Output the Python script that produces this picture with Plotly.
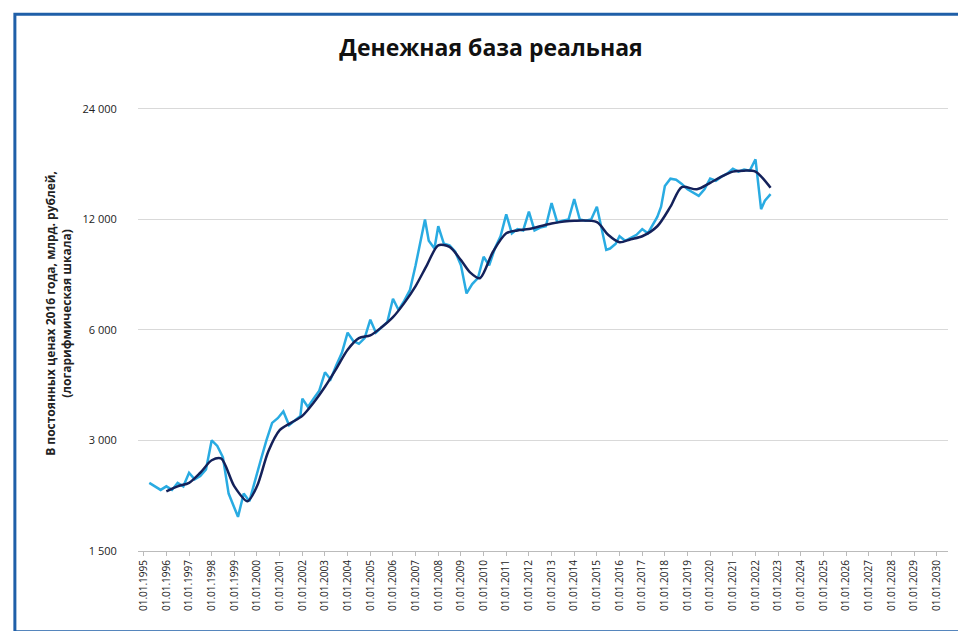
import plotly.graph_objects as go

# real monetary base (quarterly readings), bn rub in 2016 prices
raw_dates = [
    "1995-04", "1995-07", "1995-10",
    "1996-01", "1996-04", "1996-07", "1996-10",
    "1997-01", "1997-04", "1997-07", "1997-10",
    "1998-01", "1998-04", "1998-07", "1998-10",
    "1999-03", "1999-06", "1999-09", "1999-12",
    "2000-03", "2000-06", "2000-09", "2000-12",
    "2001-03", "2001-06", "2001-09", "2001-12",
    "2002-01", "2002-04", "2002-07", "2002-10",
    "2003-01", "2003-04", "2003-07", "2003-10",
    "2004-01", "2004-04", "2004-07", "2004-10",
    "2005-01", "2005-04", "2005-07", "2005-10",
    "2006-01", "2006-04", "2006-07", "2006-10",
    "2007-01", "2007-06", "2007-08", "2007-11",
    "2008-01", "2008-04", "2008-07", "2008-10",
    "2009-01", "2009-04", "2009-07", "2009-10",
    "2010-01", "2010-04", "2010-07", "2010-10",
    "2011-01", "2011-04", "2011-07", "2011-10",
    "2012-01", "2012-04", "2012-07", "2012-10",
    "2013-01", "2013-04", "2013-07", "2013-10",
    "2014-01", "2014-04", "2014-07", "2014-10",
    "2015-01", "2015-06", "2015-08", "2015-11",
    "2016-01", "2016-04", "2016-07", "2016-10",
    "2017-01", "2017-04", "2017-09", "2017-11",
    "2018-01", "2018-04", "2018-07", "2018-10",
    "2019-01", "2019-04", "2019-07", "2019-10",
    "2020-01", "2020-04", "2020-07", "2020-10",
    "2021-01", "2021-04", "2021-07", "2021-10",
    "2022-01", "2022-04", "2022-06", "2022-09",
]
raw_values = [
    2300, 2250, 2200,
    2250, 2200, 2300, 2250,
    2450, 2350, 2400, 2500,
    3003, 2900, 2700, 2150,
    1858, 2150, 2050, 2350,
    2650, 3000, 3350, 3450,
    3600, 3300, 3400, 3500,
    3900, 3700, 3900, 4100,
    4600, 4400, 4800, 5200,
    5900, 5600, 5500, 5700,
    6400, 5900, 6100, 6300,
    7300, 6800, 7200, 7700,
    9000, 11992, 10500, 10000,
    11500, 10300, 10200, 9800,
    9000, 7547, 8000, 8300,
    9500, 9000, 10000, 10800,
    12400, 11000, 11300, 11200,
    12600, 11200, 11400, 11500,
    13300, 11800, 11900, 12000,
    13647, 12000, 11900, 12000,
    13000, 9912, 10000, 10300,
    10800, 10500, 10700, 10900,
    11300, 11000, 12197, 13000,
    14800, 15500, 15400, 15000,
    14500, 14200, 13914, 14500,
    15500, 15300, 15700, 16000,
    16500, 16200, 16400, 16300,
    17500, 12800, 13500, 14063,
]

trend_dates = [
    "1996-01", "1996-07", "1997-01", "1997-07", "1998-01", "1998-06",
    "1999-01", "1999-08", "2000-01", "2000-07", "2001-01", "2001-07",
    "2002-01", "2002-07", "2003-01", "2003-07", "2004-01", "2004-07",
    "2005-01", "2005-07", "2006-01", "2006-07", "2007-01", "2007-07",
    "2008-01", "2008-07", "2009-01", "2009-06", "2009-11", "2010-06",
    "2011-01", "2011-07", "2012-01", "2013-01", "2014-01", "2015-01",
    "2015-07", "2016-01", "2016-07", "2017-01", "2017-09", "2018-04",
    "2018-10", "2019-06", "2020-01", "2020-07", "2021-01", "2021-07",
    "2022-01", "2022-09",
]
trend_values = [
    2180, 2250, 2300, 2450, 2650, 2680,
    2250, 2050, 2250, 2800, 3200, 3350,
    3500, 3800, 4200, 4700, 5300, 5700,
    5800, 6100, 6500, 7100, 7900, 9000,
    10200, 10100, 9300, 8600, 8300, 9800,
    11000, 11200, 11300, 11700, 11900, 11800,
    10900, 10400, 10600, 10800, 11500, 13000,
    14700, 14500, 15100, 15700, 16200, 16300,
    16200, 14635,
]

years = list(range(1995, 2031))
y_ticks = [1500, 3000, 6000, 12000, 24000]
y_labels = ["1 500", "3 000", "6 000", "12 000", "24 000"]

CYAN = "#29abe2"
NAVY = "#14215a"

fig = go.Figure()
fig.add_trace(go.Scatter(x=raw_dates, y=raw_values, mode="lines",
                         line=dict(color=CYAN, width=2.5)))
fig.add_trace(go.Scatter(x=trend_dates, y=trend_values, mode="lines",
                         line=dict(color=NAVY, width=2.5, shape="spline", smoothing=0.8)))

# callouts: (date, value, text, style, ax, ay)
callouts = [
    ("1998-01-01", 3003, "01.01.1998; 3 003", "yellow", 0, -40),
    ("1999-03-01", 1858, "01.03.1999<br>1 858", "cyan", -70, 8),
    ("2007-06-01", 11992, "01.06.2007; 11 992", "yellow", -75, -25),
    ("2009-04-01", 7547, "01.04.2009; 7 547", "cyan", 15, 45),
    ("2014-01-01", 13647, "01.01.2014; 13 647", "yellow", -5, -40),
    ("2015-06-01", 9912, "01.06.2015; 9 912", "cyan", -30, 40),
    ("2017-09-01", 12197, "Выход на уровень 2007 года<br>01.09.2017; 12 197", "cyan", -15, 95),
    ("2019-07-01", 13914, "01.07.2019; 13 914", "cyan", 15, 82),
    ("2022-09-01", 14635, "01.09.2022;  14 635", "navy", -30, -48),
    ("2022-09-01", 14063, "01.09.2022;  14 063", "cyanbig", 90, -8),
]
for d, v, t, style, ax, ay in callouts:
    if style == "yellow":
        kw = dict(bgcolor="#ffff00", bordercolor=CYAN, font=dict(color="#3a9a3a", size=11), arrowcolor=CYAN)
    elif style == "navy":
        kw = dict(bgcolor="white", bordercolor=NAVY, font=dict(color=NAVY, size=13), arrowcolor=NAVY)
    elif style == "cyanbig":
        kw = dict(bgcolor="white", bordercolor=CYAN, font=dict(color=CYAN, size=13), arrowcolor=CYAN)
    else:
        kw = dict(bgcolor="white", bordercolor=CYAN, font=dict(color=CYAN, size=11), arrowcolor=CYAN)
    fig.add_annotation(x=d, y=v, xref="x", yref="y", text=t, showarrow=True, arrowhead=0,
                       arrowwidth=1.2, ax=ax, ay=ay, axref="pixel", ayref="pixel",
                       borderwidth=1.5, borderpad=3, **kw)

fig.add_shape(type="rect", xref="paper", yref="paper", x0=-0.152, x1=1.024, y0=-0.17, y1=1.13,
              line=dict(color="#1f5fa8", width=3))

fig.update_layout(
    width=966, height=631,
    margin=dict(l=130, r=26, t=68, b=88),
    paper_bgcolor="white", plot_bgcolor="white",
    showlegend=False,
    font=dict(family="Open Sans, Arial", color="#222"),
    title=dict(text="<b>Денежная база реальная</b>", x=0.5, xanchor="center", y=0.95,
               font=dict(size=23, color="#111")),
)
fig.update_xaxes(
    type="date", range=["1994-10-01", "2030-07-01"],
    tickvals=[f"{y}-01-01" for y in years],
    ticktext=[f"01.01.{y}" for y in years],
    tickangle=-90, tickfont=dict(size=10, color="#222"),
    showgrid=False, showline=True, linecolor="#bbb", ticks="outside", ticklen=4, tickcolor="#bbb",
)
fig.update_yaxes(
    type="log", range=[3.176, 4.47],
    tickvals=y_ticks, ticktext=y_labels, tickfont=dict(size=11),
    ticks="outside", ticklen=18, tickcolor="white",
    showgrid=True, gridcolor="#d9d9d9", zeroline=False,
    title=dict(text="<b>В постоянных ценах 2016 года, млрд. рублей,<br>(логарифмическая шкала)</b>",
               font=dict(size=12), standoff=8),
)

fig.write_html("out.html")
